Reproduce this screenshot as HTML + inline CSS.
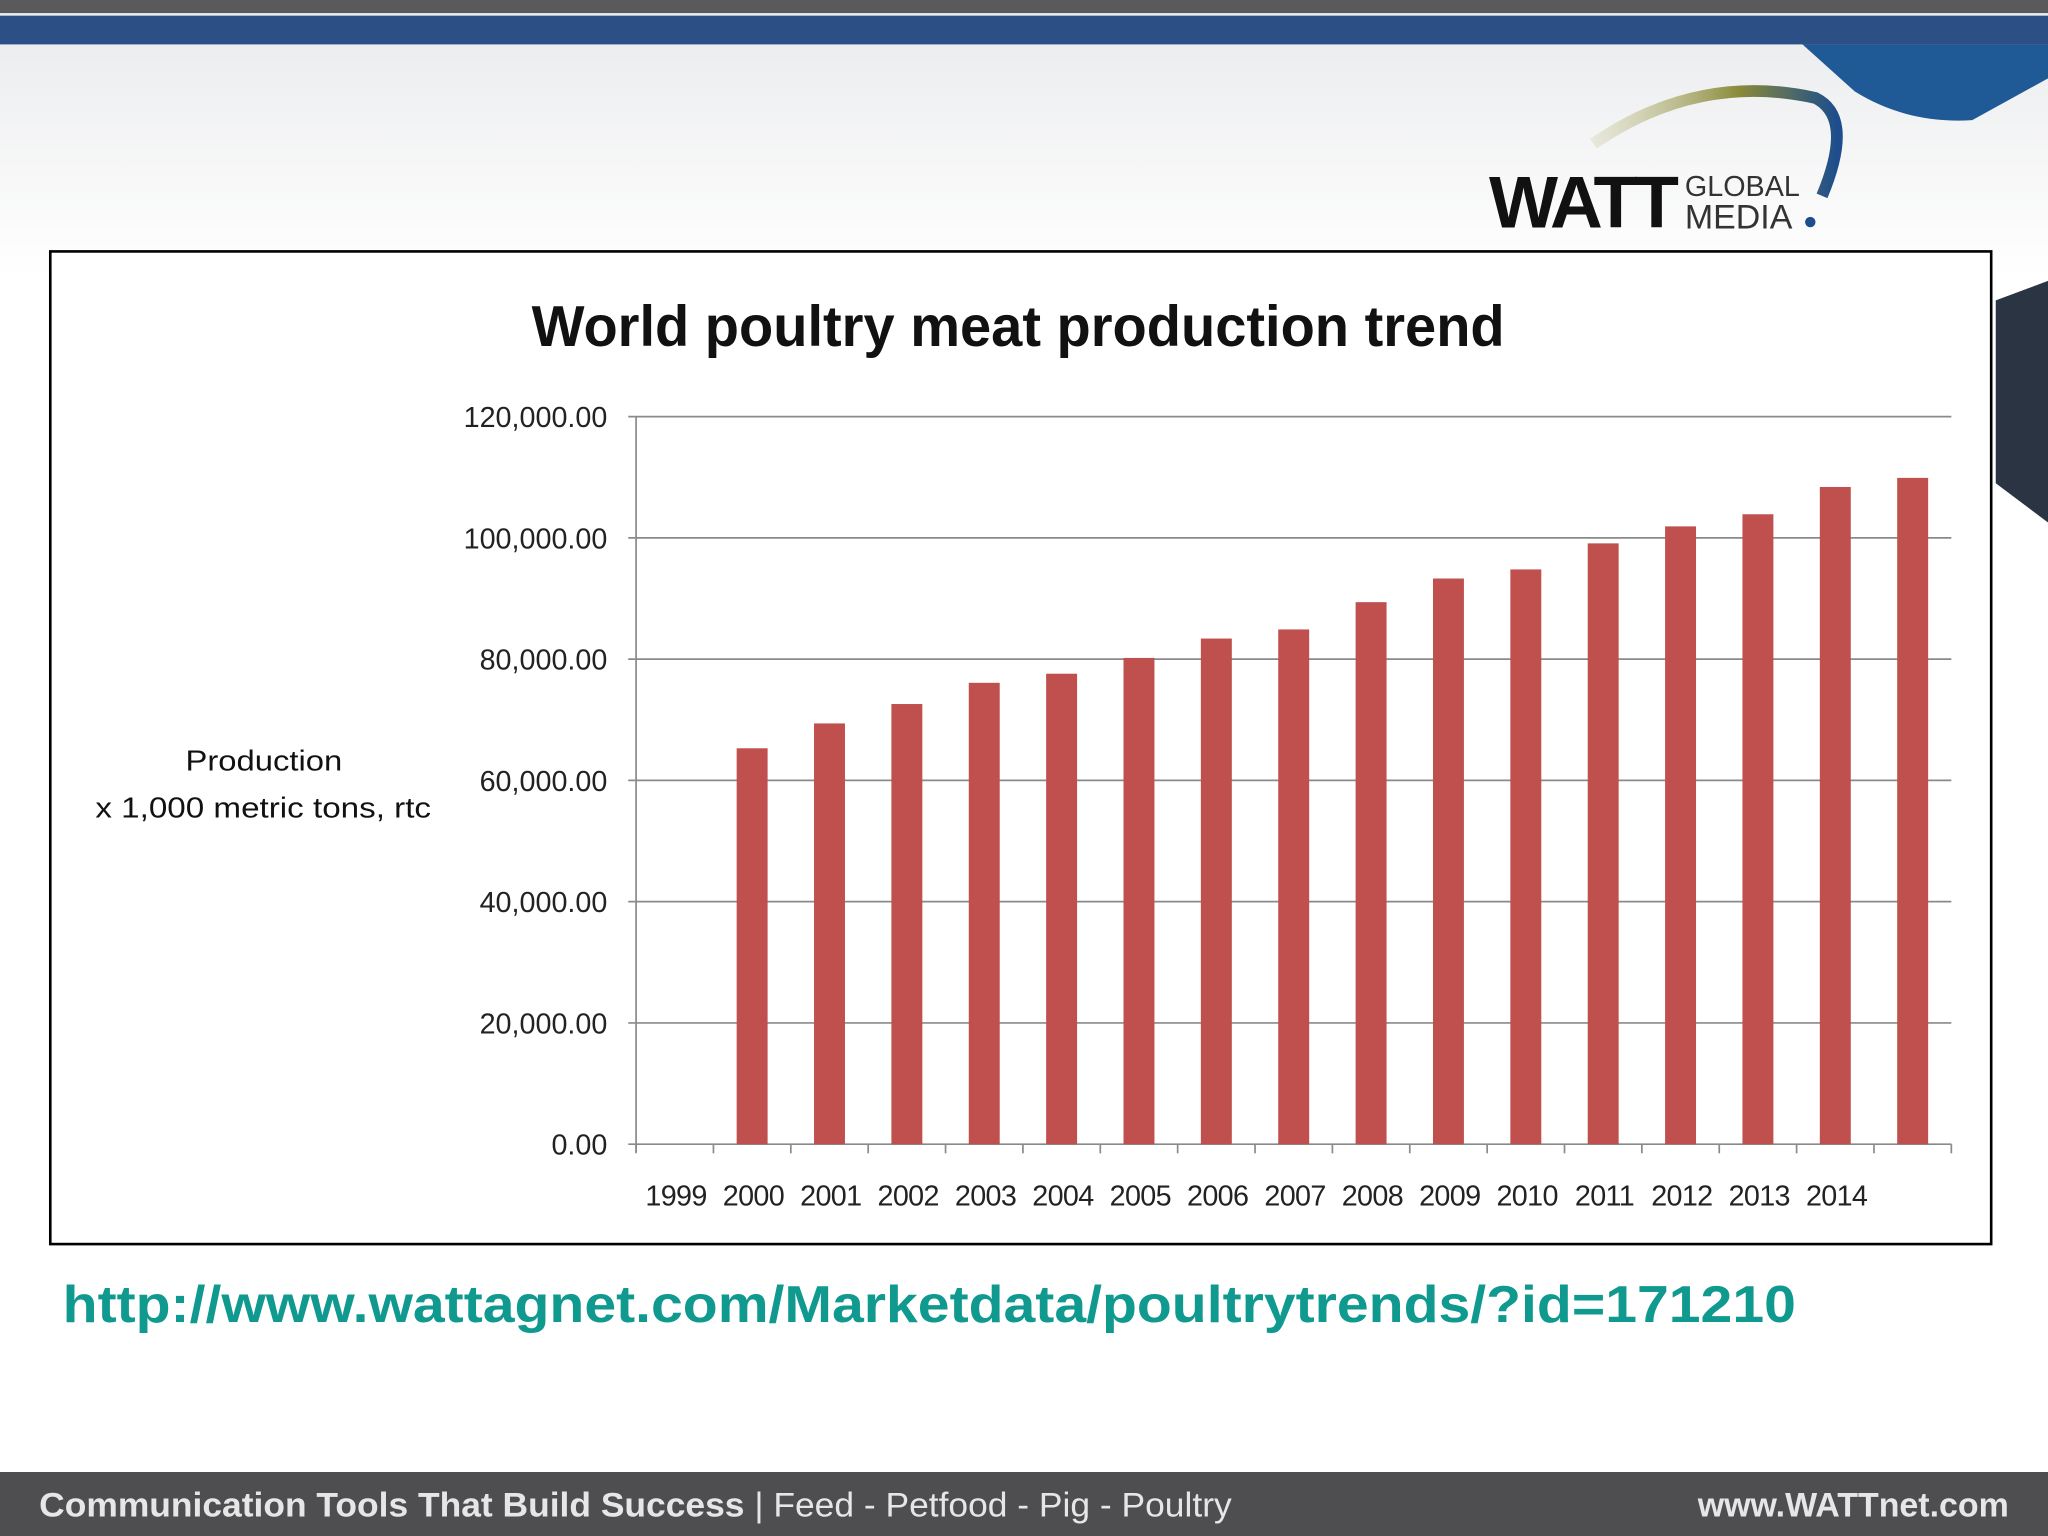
<!DOCTYPE html>
<html><head><meta charset="utf-8"><style>
html,body{margin:0;padding:0;background:#fff;}
svg{display:block;font-family:"Liberation Sans",sans-serif;}
</style></head><body>
<svg id="root" width="2048" height="1536" viewBox="0 0 1568 1176" xmlns="http://www.w3.org/2000/svg">
<defs>
<linearGradient id="bg" x1="0" y1="0" x2="0" y2="1"><stop offset="0" stop-color="#e9eaec"/><stop offset="0.18" stop-color="#ffffff"/><stop offset="1" stop-color="#ffffff"/></linearGradient>
<linearGradient id="swoosh" x1="0" y1="0" x2="1" y2="0"><stop offset="0" stop-color="#c9c89a" stop-opacity="0.3"/><stop offset="0.6" stop-color="#8a8a3a"/><stop offset="1" stop-color="#1d4d8c"/></linearGradient>
</defs>
<rect width="1568" height="1176" fill="url(#bg)"/>
<rect x="0" y="0" width="1568" height="10" fill="#5a5a5c"/>
<rect x="0" y="12" width="1568" height="22" fill="#2c4f86"/>
<path d="M1380 34 L1568 34 L1568 60 L1510 92 Q1460 95 1420 70 Z" fill="#1f5a96"/>
<path d="M1528 230 L1568 215 L1568 400 L1528 370 Z" fill="#2a3442"/>
<g>
<path d="M1220 110 Q1300 55 1390 75 Q1420 90 1395 150" fill="none" stroke="url(#swoosh)" stroke-width="9"/>
<text x="1140" y="174" font-size="56" font-weight="bold" fill="#111" letter-spacing="-3">WATT</text>
<text x="1290" y="150" font-size="22" fill="#333">GLOBAL</text>
<text x="1290" y="175" font-size="26" fill="#333">MEDIA</text>
<circle cx="1386" cy="170" r="4" fill="#1d4d8c"/>
</g>
<rect x="38.5" y="192.5" width="1486" height="760" fill="#fff" stroke="#000" stroke-width="2"/>
<text x="407" y="265" font-size="44" font-weight="bold" textLength="745" lengthAdjust="spacingAndGlyphs" fill="#111">World poultry meat production trend</text>
<g>
<text x="142" y="590" font-size="22" textLength="120" lengthAdjust="spacingAndGlyphs" fill="#111">Production</text>
<text x="73" y="626" font-size="22" textLength="257" lengthAdjust="spacingAndGlyphs" fill="#111">x 1,000 metric tons, rtc</text>
</g>
<g id="grid"></g><g id="bars"></g><g id="axes"></g>
<text x="48" y="1012" font-size="40" font-weight="bold" textLength="1327" lengthAdjust="spacingAndGlyphs" fill="#10998f">http://www.wattagnet.com/Marketdata/poultrytrends/?id=171210</text>
<rect x="0" y="1127" width="1568" height="49" fill="#4e4e50"/>
<text x="30" y="1161" font-size="26" fill="#e6e6e6" textLength="913" lengthAdjust="spacingAndGlyphs"><tspan font-weight="bold">Communication Tools That Build Success</tspan>  |  Feed - Petfood - Pig - Poultry</text>
<text x="1538" y="1161" font-size="26" font-weight="bold" fill="#e6e6e6" text-anchor="end">www.WATTnet.com</text>
</svg>
<script>
const categories=["1999","2000","2001","2002","2003","2004","2005","2006","2007","2008","2009","2010","2011","2012","2013","2014",""];
const values=[null,65300,69400,72600,76100,77600,80200,83400,84900,89400,93300,94800,99100,101900,103900,108400,109900];
const yTicks=[0,20000,40000,60000,80000,100000,120000];
const yTickLabels=["0.00","20,000.00","40,000.00","60,000.00","80,000.00","100,000.00","120,000.00"];
const NS="http://www.w3.org/2000/svg";
const X0=487,X1=1494,Y0=876,Y1=319,YMAX=120000;
const slot=(X1-X0)/categories.length;
function y(v){return Y0-(v/YMAX)*(Y0-Y1);}
function xc(i){return X0+slot*(i+0.5);}
function mk(tag,attrs,parent){const e=document.createElementNS(NS,tag);for(const k in attrs)e.setAttribute(k,attrs[k]);parent.appendChild(e);return e;}
const grid=document.getElementById('grid'),bars=document.getElementById('bars'),axes=document.getElementById('axes');
yTicks.forEach((t,i)=>{
 const l=mk('line',{x1:X0-6,x2:X1,y1:y(t),y2:y(t),stroke:'#8a8a8a','stroke-width':1.3},grid);
 
 
 const tx=mk('text',{x:465,y:y(t)+8,'font-size':22,'text-anchor':'end',fill:'#222'},axes);
 tx.textContent=yTickLabels[i];
 
 
});
const bw=slot*0.4;
values.forEach((v,i)=>{
 if(v==null)return;
 const r=mk('rect',{x:xc(i)-bw/2,y:y(v),width:bw,height:Y0-y(v),fill:'#c0504d'},bars);
 
 
});
const ax=mk('line',{x1:X0,x2:X0,y1:Y1,y2:Y0+6,stroke:'#8a8a8a','stroke-width':1.3},axes);


for(let i=0;i<=categories.length;i++){
 const t=mk('line',{x1:X0+slot*i,x2:X0+slot*i,y1:Y0,y2:Y0+7,stroke:'#8a8a8a','stroke-width':1.3},axes);
 
 
}
categories.forEach((c,i)=>{
 if(!c)return;
 const tx=mk('text',{x:xc(i)+1,y:923,'font-size':22,'text-anchor':'middle',fill:'#222','letter-spacing':'-0.5'},axes);
 tx.textContent=c;
 
 
});
</script>
</body></html>
